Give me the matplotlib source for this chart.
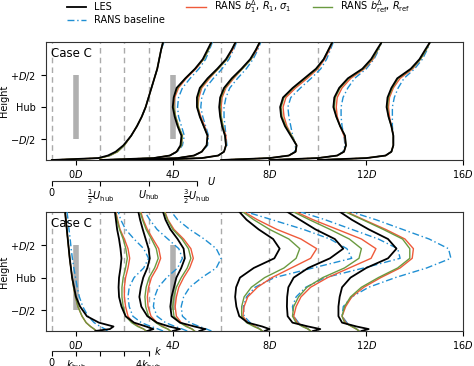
import numpy as np
import matplotlib
matplotlib.use("Agg")
import matplotlib.pyplot as plt

# ---------------- data ----------------
# heights (in rotor diameters, relative to hub)
z = [-0.83, -0.80, -0.76, -0.70, -0.60, -0.45, -0.30, -0.15, 0.0,
     0.15, 0.30, 0.45, 0.60, 0.75, 0.90, 1.02]

stations = [-1, 1, 2, 3, 6, 8, 10]     # x/D of profiles
turbines = [0, 4]                      # x/D of turbines

# streamwise velocity U/U_hub
U_les = [
    [0, 0.48, 0.58, 0.66, 0.74, 0.82, 0.88, 0.93, 0.97, 1.00, 1.03, 1.06, 1.09, 1.11, 1.13, 1.15],
    [0, 0.55, 0.72, 0.79, 0.83, 0.84, 0.80, 0.77, 0.75, 0.76, 0.79, 0.88, 0.98, 1.06, 1.11, 1.15],
    [0, 0.55, 0.72, 0.80, 0.85, 0.86, 0.82, 0.78, 0.75, 0.75, 0.78, 0.86, 0.96, 1.05, 1.11, 1.15],
    [0, 0.55, 0.72, 0.78, 0.80, 0.79, 0.76, 0.74, 0.73, 0.74, 0.78, 0.86, 0.96, 1.05, 1.11, 1.15],
    [0, 0.50, 0.70, 0.77, 0.78, 0.72, 0.66, 0.62, 0.61, 0.64, 0.74, 0.86, 0.98, 1.06, 1.11, 1.15],
    [0, 0.50, 0.70, 0.77, 0.79, 0.78, 0.73, 0.69, 0.66, 0.67, 0.72, 0.81, 0.96, 1.05, 1.11, 1.16],
    [0, 0.50, 0.70, 0.76, 0.78, 0.78, 0.76, 0.73, 0.71, 0.72, 0.76, 0.82, 0.96, 1.05, 1.11, 1.16],
]
U_base = [
    [0, 0.50, 0.60, 0.68, 0.75, 0.82, 0.88, 0.93, 0.97, 1.00, 1.03, 1.06, 1.09, 1.11, 1.13, 1.16],
    [0, 0.55, 0.72, 0.80, 0.85, 0.87, 0.84, 0.81, 0.80, 0.81, 0.85, 0.93, 1.02, 1.09, 1.13, 1.16],
    [0, 0.55, 0.72, 0.80, 0.86, 0.87, 0.84, 0.81, 0.79, 0.80, 0.84, 0.92, 1.01, 1.08, 1.13, 1.16],
    [0, 0.55, 0.72, 0.78, 0.81, 0.80, 0.79, 0.78, 0.78, 0.80, 0.84, 0.92, 1.01, 1.08, 1.13, 1.16],
    [0, 0.50, 0.70, 0.76, 0.77, 0.74, 0.72, 0.70, 0.69, 0.72, 0.82, 0.93, 1.03, 1.09, 1.13, 1.16],
    [0, 0.50, 0.70, 0.76, 0.78, 0.77, 0.75, 0.74, 0.74, 0.76, 0.81, 0.88, 1.00, 1.08, 1.13, 1.16],
    [0, 0.50, 0.70, 0.76, 0.78, 0.78, 0.77, 0.77, 0.77, 0.79, 0.83, 0.89, 1.00, 1.08, 1.13, 1.16],
]
U_b1 = [
    [0, 0.50, 0.60, 0.68, 0.75, 0.82, 0.88, 0.93, 0.97, 1.00, 1.03, 1.06, 1.09, 1.11, 1.13, 1.15],
    [0, 0.55, 0.72, 0.79, 0.84, 0.85, 0.81, 0.78, 0.76, 0.77, 0.81, 0.89, 0.99, 1.07, 1.12, 1.15],
    [0, 0.55, 0.72, 0.80, 0.85, 0.86, 0.83, 0.79, 0.76, 0.77, 0.80, 0.88, 0.97, 1.06, 1.12, 1.15],
    [0, 0.55, 0.72, 0.78, 0.80, 0.80, 0.77, 0.75, 0.75, 0.76, 0.80, 0.88, 0.97, 1.06, 1.12, 1.15],
    [0, 0.50, 0.70, 0.77, 0.78, 0.73, 0.68, 0.65, 0.64, 0.67, 0.77, 0.89, 1.00, 1.07, 1.12, 1.15],
    [0, 0.50, 0.70, 0.77, 0.79, 0.77, 0.73, 0.70, 0.69, 0.70, 0.75, 0.84, 0.98, 1.07, 1.12, 1.16],
    [0, 0.50, 0.70, 0.76, 0.78, 0.78, 0.76, 0.74, 0.73, 0.74, 0.78, 0.85, 0.98, 1.06, 1.12, 1.16],
]
U_bref = [
    [0, 0.50, 0.60, 0.68, 0.75, 0.82, 0.88, 0.93, 0.97, 1.00, 1.03, 1.06, 1.09, 1.11, 1.13, 1.15],
    [0, 0.55, 0.72, 0.79, 0.84, 0.85, 0.81, 0.78, 0.76, 0.76, 0.80, 0.88, 0.98, 1.07, 1.12, 1.15],
    [0, 0.55, 0.72, 0.80, 0.85, 0.86, 0.82, 0.78, 0.76, 0.76, 0.79, 0.87, 0.97, 1.06, 1.11, 1.15],
    [0, 0.55, 0.72, 0.78, 0.80, 0.79, 0.77, 0.75, 0.74, 0.75, 0.79, 0.87, 0.97, 1.06, 1.11, 1.15],
    [0, 0.50, 0.70, 0.77, 0.78, 0.73, 0.67, 0.63, 0.62, 0.65, 0.75, 0.87, 0.99, 1.06, 1.11, 1.15],
    [0, 0.50, 0.70, 0.77, 0.79, 0.78, 0.73, 0.69, 0.67, 0.68, 0.73, 0.82, 0.97, 1.06, 1.12, 1.16],
    [0, 0.50, 0.70, 0.76, 0.78, 0.78, 0.76, 0.73, 0.72, 0.73, 0.77, 0.83, 0.97, 1.06, 1.12, 1.16],
]

# turbulent kinetic energy k/k_hub
k_les = [
    [1.80, 2.40, 2.55, 1.95, 1.45, 1.17, 1.00, 0.92, 0.84, 0.79, 0.74, 0.70, 0.66, 0.62, 0.58, 0.55],
    [1.95, 2.20, 1.90, 1.40, 1.05, 0.88, 0.78, 0.76, 0.78, 0.84, 0.88, 0.84, 0.78, 0.70, 0.65, 0.61],
    [2.00, 2.30, 1.85, 1.35, 0.95, 0.70, 0.62, 0.68, 0.78, 0.95, 1.05, 1.00, 0.88, 0.76, 0.65, 0.58],
    [2.10, 2.35, 1.90, 1.30, 0.95, 0.90, 0.95, 1.05, 1.15, 1.35, 1.50, 1.45, 1.20, 0.90, 0.70, 0.60],
    [1.80, 2.00, 1.70, 1.10, 0.75, 0.63, 0.58, 0.62, 0.78, 1.35, 2.20, 2.42, 2.15, 1.55, 1.05, 0.76],
    [1.80, 2.10, 1.60, 0.95, 0.75, 0.72, 0.73, 0.78, 1.00, 1.60, 2.50, 3.05, 2.70, 1.90, 1.25, 0.75],
    [1.80, 2.10, 1.60, 1.00, 0.85, 0.85, 0.90, 1.00, 1.35, 2.00, 2.90, 3.25, 2.90, 2.10, 1.40, 0.92],
]
k_base = [
    [2.30, 2.20, 2.00, 1.75, 1.50, 1.28, 1.14, 1.05, 0.98, 0.91, 0.85, 0.80, 0.76, 0.71, 0.67, 0.63],
    [2.60, 2.40, 2.10, 1.70, 1.35, 1.20, 1.15, 1.20, 1.40, 1.80, 2.00, 1.80, 1.40, 1.05, 0.85, 0.75],
    [2.60, 2.40, 2.10, 1.70, 1.35, 1.20, 1.25, 1.40, 1.75, 2.20, 2.40, 2.25, 1.80, 1.35, 1.05, 0.85],
    [2.60, 2.40, 2.10, 1.70, 1.40, 1.35, 1.45, 1.70, 2.20, 2.80, 3.00, 2.80, 2.30, 1.70, 1.20, 0.95],
    [1.70, 1.60, 1.45, 1.20, 0.95, 0.92, 1.05, 1.40, 2.20, 3.80, 5.40, 5.20, 4.50, 3.40, 2.10, 1.05],
    [1.70, 1.60, 1.45, 1.20, 1.00, 0.95, 1.10, 1.50, 2.30, 3.90, 5.40, 5.30, 4.50, 3.40, 2.30, 1.30],
    [1.70, 1.60, 1.45, 1.20, 1.00, 1.05, 1.40, 2.10, 3.20, 4.50, 5.50, 5.40, 4.60, 3.50, 2.40, 1.40],
]
k_b1 = [
    [1.85, 1.75, 1.60, 1.42, 1.25, 1.08, 0.98, 0.90, 0.84, 0.79, 0.74, 0.70, 0.66, 0.62, 0.58, 0.55],
    [1.90, 1.80, 1.60, 1.35, 1.15, 1.05, 1.00, 1.00, 1.05, 1.15, 1.22, 1.15, 1.00, 0.82, 0.72, 0.65],
    [1.90, 1.80, 1.60, 1.35, 1.10, 0.98, 0.95, 1.00, 1.12, 1.35, 1.50, 1.42, 1.18, 0.95, 0.78, 0.68],
    [1.90, 1.80, 1.60, 1.35, 1.15, 1.10, 1.15, 1.25, 1.45, 1.70, 1.85, 1.75, 1.45, 1.05, 0.80, 0.68],
    [1.70, 1.60, 1.40, 1.10, 0.90, 0.95, 1.10, 1.50, 2.10, 2.90, 3.70, 3.95, 3.30, 2.30, 1.50, 0.95],
    [1.70, 1.60, 1.40, 1.15, 1.00, 1.10, 1.30, 1.70, 2.40, 3.30, 4.20, 4.40, 3.80, 2.80, 1.80, 1.10],
    [1.70, 1.60, 1.40, 1.15, 1.00, 1.15, 1.40, 1.90, 2.60, 3.40, 3.90, 3.95, 3.60, 2.80, 1.90, 1.20],
]
k_bref = [
    [1.85, 1.75, 1.60, 1.42, 1.25, 1.08, 0.98, 0.90, 0.84, 0.79, 0.74, 0.70, 0.66, 0.62, 0.58, 0.55],
    [1.90, 1.80, 1.55, 1.30, 1.05, 0.95, 0.90, 0.90, 0.95, 1.05, 1.12, 1.06, 0.95, 0.80, 0.70, 0.63],
    [1.90, 1.80, 1.55, 1.30, 1.00, 0.88, 0.85, 0.90, 1.02, 1.25, 1.40, 1.32, 1.12, 0.90, 0.75, 0.65],
    [1.90, 1.80, 1.55, 1.30, 1.05, 1.00, 1.05, 1.15, 1.35, 1.60, 1.75, 1.65, 1.38, 1.00, 0.78, 0.66],
    [1.70, 1.60, 1.35, 1.05, 0.85, 0.85, 0.95, 1.25, 1.80, 2.60, 3.10, 3.25, 2.80, 2.00, 1.35, 0.90],
    [1.70, 1.60, 1.35, 1.10, 0.95, 1.00, 1.20, 1.55, 2.20, 3.10, 3.70, 3.80, 3.30, 2.50, 1.65, 1.00],
    [1.70, 1.60, 1.40, 1.10, 1.00, 1.10, 1.35, 1.80, 2.50, 3.30, 3.80, 3.80, 3.50, 2.70, 1.85, 1.15],
]

U_scale = 4.0   # U_hub spans 4D on the plot
k_scale = 1.0   # k_hub spans 1D on the plot

# ---------------- style ----------------
c_les, c_base, c_b1, c_bref = "black", "#1f8fd3", "#ef5a3a", "#6a9a40"
plt.rcParams["font.family"] = ["DejaVu Sans"]
plt.rcParams["mathtext.fontset"] = "dejavusans"
fs = 7

fig = plt.figure(figsize=(4.74, 3.66), dpi=100)
L, W = 46 / 474, 417 / 474
ax1 = fig.add_axes([L, 1 - 160 / 366, W, 118 / 366])
ax2 = fig.add_axes([L, 1 - 331 / 366, W, 119 / 366])

xlim = (-1.24, 16.0)
ylim = (-0.83, 1.02)

def draw(ax, les, base, b1, bref, scale):
    for x0 in stations:
        ax.axvline(x0, color="#aaaaaa", ls=(0, (4, 3)), lw=1.0, zorder=1)
    for xt in turbines:
        ax.plot([xt, xt], [-0.5, 0.5], color="#b0b0b0", lw=4, solid_capstyle="butt", zorder=1)
    for i, x0 in enumerate(stations):
        ax.plot(x0 + scale * np.array(base[i]), z, color=c_base, lw=1.0, ls=(0, (5, 2, 1, 2)), zorder=3)
        ax.plot(x0 + scale * np.array(b1[i]), z, color=c_b1, lw=1.0, zorder=4)
        ax.plot(x0 + scale * np.array(bref[i]), z, color=c_bref, lw=1.0, zorder=4)
        ax.plot(x0 + scale * np.array(les[i]), z, color=c_les, lw=1.3, zorder=5)
    ax.set_xlim(*xlim)
    ax.set_ylim(*ylim)
    ax.set_xticks([0, 4, 8, 12, 16])
    ax.set_xticklabels(["$0D$", "$4D$", "$8D$", "$12D$", "$16D$"], fontsize=fs)
    ax.set_yticks([-0.5, 0, 0.5])
    ax.set_yticklabels(["$-D/2$", "Hub", "$+D/2$"], fontsize=fs)
    ax.tick_params(axis="x", pad=2)
    ax.set_ylabel("Height", fontsize=fs, labelpad=1)
    ax.text(0.012, 0.96, "Case C", transform=ax.transAxes, fontsize=8.5, va="top", ha="left")
    for s in ax.spines.values():
        s.set_color("#333333")

draw(ax1, U_les, U_base, U_b1, U_bref, U_scale)
draw(ax2, k_les, k_base, k_b1, k_bref, k_scale)

def scale_axis(y_px, ticks, labels, bounds, name, name_xy):
    a = fig.add_axes([L, 1 - y_px / 366, W, 0.0001])
    a.set_xlim(*xlim)
    a.patch.set_alpha(0)
    for s in ["top", "left", "right"]:
        a.spines[s].set_visible(False)
    a.spines["bottom"].set_bounds(*bounds)
    a.spines["bottom"].set_color("#333333")
    a.set_yticks([])
    a.set_xticks(ticks)
    a.set_xticklabels(labels, fontsize=fs)
    a.tick_params(axis="x", pad=1.5)
    fig.text(name_xy[0] / 474, 1 - name_xy[1] / 366, name, fontsize=fs, ha="center", va="center")

scale_axis(181, [-1, 1, 3, 5],
           ["0", r"$\frac{1}{2}U_{\rm hub}$", r"$U_{\rm hub}$", r"$\frac{3}{2}U_{\rm hub}$"],
           (-1, 5), "$U$", (211, 181))
scale_axis(351, [-1, 0, 1, 2, 3],
           ["0", r"$k_{\rm hub}$", "", "", r"$4k_{\rm hub}$"],
           (-1, 3), "$k$", (158, 351))

handles = [
    plt.Line2D([], [], color=c_les, lw=1.3),
    plt.Line2D([], [], color=c_base, lw=1.0, ls=(0, (5, 2, 1, 2))),
    plt.Line2D([], [], color=c_b1, lw=1.0),
    plt.Line2D([], [], color=c_bref, lw=1.0),
]
labels = ["LES", "RANS baseline", r"RANS $b_1^\Delta$, $R_1$, $\sigma_1$",
          r"RANS $b_{\rm ref}^\Delta$, $R_{\rm ref}$"]
fig.legend(handles, labels, ncol=3, frameon=False, fontsize=fs,
           loc="upper left", bbox_to_anchor=(62 / 474, 1.018), handlelength=2.0,
           labelspacing=0.35, borderpad=0.0, columnspacing=2.2)

fig.savefig("out.png", dpi=100)
